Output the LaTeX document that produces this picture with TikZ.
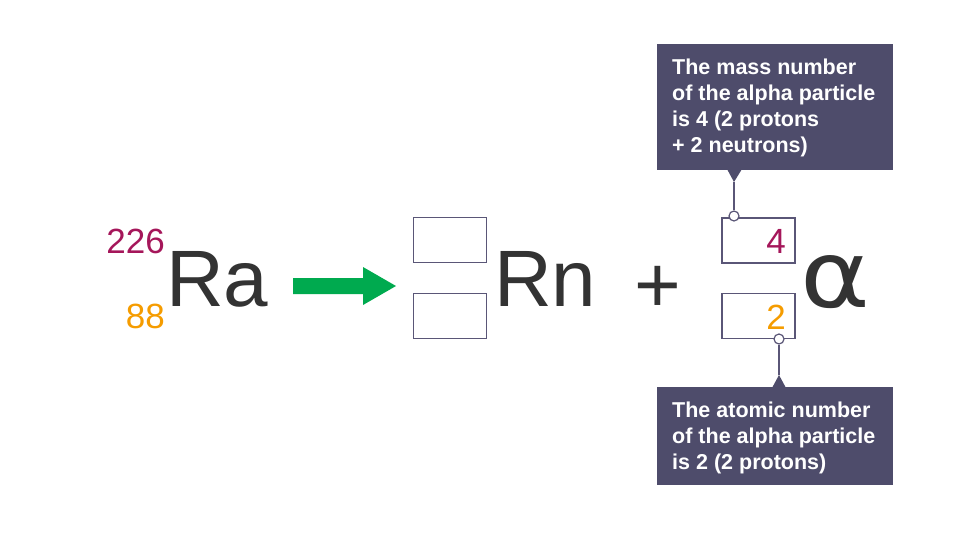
\documentclass[tikz,border=0pt]{standalone}
\usepackage{fontspec}
\setmainfont{Liberation Sans}
\newfontfamily\greekfont{DejaVu Sans}
\usepackage{graphicx}
\usepackage{tikz}

\definecolor{notebg}{HTML}{4E4C6B}
\definecolor{boxline}{HTML}{5A5677}
\definecolor{massred}{HTML}{A5165A}
\definecolor{atomorange}{HTML}{F59C00}
\definecolor{arrowgreen}{HTML}{00AA4F}
\definecolor{inkgray}{HTML}{333333}

\begin{document}
\begin{tikzpicture}[x=1pt,y=-1pt,
    symbol/.style={inner sep=0pt, text=inkgray, font=\fontsize{80}{80}\selectfont},
    nucnum/.style={inner sep=0pt, font=\fontsize{35}{35}\selectfont},
    blank/.style={draw=boxline, line width=1.4pt, minimum width=73pt, minimum height=45pt, inner sep=0pt},
    notebox/.style={fill=notebg, minimum width=236pt, inner sep=0pt},
    notetext/.style={inner sep=0pt, text=white, align=left,
      font=\fontsize{21.5}{26}\selectfont\bfseries},
    pin/.style={circle, draw=boxline, fill=white, line width=1.2pt, minimum size=10pt, inner sep=0pt},
    lead/.style={draw=boxline, line width=1.4pt}]

  % page
  \useasboundingbox (0,0) rectangle (976,549);
  \fill[white] (0,0) rectangle (976,549);

  % --- Radium ---
  \node[symbol, anchor=base west] (ra) at (166,306) {Ra};
  \node[nucnum, anchor=base east, text=massred] (raMass) at (165,253) {226};
  \node[nucnum, anchor=base east, text=atomorange] (raAtomic) at (165,328) {88};

  % --- reaction arrow ---
  \fill[arrowgreen] (293,278) -- (363,278) -- (363,267) -- (396,286)
    -- (363,305) -- (363,294) -- (293,294) -- cycle;

  % --- Radon with empty boxes ---
  \node[blank] (rnMass) at (450,240) {};
  \node[blank] (rnAtomic) at (450,316) {};
  \node[symbol, anchor=base west] (rn) at (494,306) {Rn};

  % --- plus ---
  \node[symbol, anchor=base] (plus) at (657.5,312) {+};

  % --- alpha particle ---
  \node[blank] (alphaMass) at (758.5,240.5) {};
  \node[blank] (alphaAtomic) at (758.5,316) {};
  \node[nucnum, anchor=base east, text=massred] (four) at (786,253) {4};
  \node[nucnum, anchor=base east, text=atomorange] (two) at (786,329) {2};
  \node[symbol, anchor=base west, font=\fontsize{93}{93}\selectfont\greekfont] (alpha) at (800,307) {\scalebox{1.14}[1]{α}};

  % --- note on the mass number ---
  \node[notebox, minimum height=126pt] (massNote) at (775,107) {};
  \node[notetext, anchor=north west] (massText) at (672,59)
    {The mass number\\of the alpha particle\\is 4 (2 protons\\+ 2 neutrons)};
  \coordinate (massTip) at (734,182);
  \fill[notebg] (727,169) -- (massTip) -- (742,169) -- cycle;
  \node[pin] (massPin) at (734,216) {};
  \draw[lead] (massTip) -- (massPin);

  % --- note on the atomic number ---
  \node[notebox, minimum height=98pt] (atomicNote) at (775,436) {};
  \node[notetext, anchor=north west] (atomicText) at (672,402)
    {The atomic number\\of the alpha particle\\is 2 (2 protons)};
  \coordinate (atomicTip) at (779,375);
  \fill[notebg] (772,388) -- (atomicTip) -- (786,388) -- cycle;
  \node[pin] (atomicPin) at (779,339) {};
  \draw[lead] (atomicPin) -- (atomicTip);

\end{tikzpicture}
\end{document}
